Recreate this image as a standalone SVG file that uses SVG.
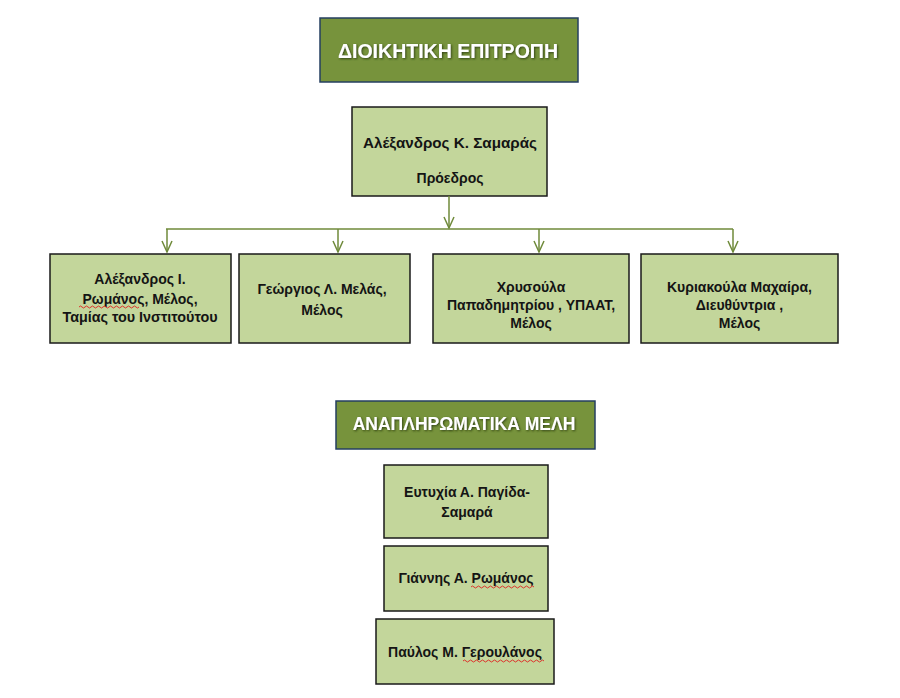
<svg xmlns="http://www.w3.org/2000/svg" width="900" height="698" viewBox="0 0 900 698">
<defs>
<style>
.title rect{fill:#77933c;stroke:#243f60;stroke-width:1.5}
.title text{font-family:"Liberation Sans",Arial,sans-serif;font-weight:bold;fill:#ffffff;text-anchor:middle;filter:url(#sh)}
.node rect{fill:#c3d69b;stroke:#1a1a1a;stroke-width:1.5}
.node text{font-family:"Liberation Sans",Arial,sans-serif;font-weight:bold;font-size:14px;fill:#141414;text-anchor:middle}
.conn path{fill:none;stroke:#6f8a3a;stroke-width:1.5}
.sq{fill:none;stroke:#e02020;stroke-width:0.9}
</style>
<filter id="sh" x="-10%" y="-30%" width="120%" height="160%">
<feGaussianBlur in="SourceAlpha" stdDeviation="0.8"/>
<feOffset dx="0.5" dy="0.8" result="b"/>
<feFlood flood-color="#2a3a10" flood-opacity="0.9"/>
<feComposite in2="b" operator="in"/>
<feMerge><feMergeNode/><feMergeNode in="SourceGraphic"/></feMerge>
</filter>
<marker id="ar" markerWidth="14" markerHeight="12" refX="12" refY="6" orient="auto" markerUnits="userSpaceOnUse">
<path d="M1,1 L12,6 L1,11" fill="none" stroke="#6f8a3a" stroke-width="1.5"/>
</marker>
</defs>
<rect width="900" height="698" fill="#ffffff"/>

<g id="title1" class="title">
<rect x="320" y="18" width="258" height="64"/>
<text x="448" y="58" font-size="19.5" textLength="220" lengthAdjust="spacingAndGlyphs">ΔΙΟΙΚΗΤΙΚΗ ΕΠΙΤΡΟΠΗ</text>
</g>

<g id="president" class="node">
<rect x="352" y="107" width="195" height="89"/>
<text x="450" y="148" textLength="174" lengthAdjust="spacingAndGlyphs">Αλέξανδρος Κ. Σαμαράς</text>
<text x="450" y="183">Πρόεδρος</text>
</g>

<g id="connectors" class="conn">
<path d="M449,196 V228" marker-end="url(#ar)"/>
<path d="M166,229 H733"/>
<path d="M167,229 V252" marker-end="url(#ar)"/>
<path d="M338,229 V252" marker-end="url(#ar)"/>
<path d="M539,229 V252" marker-end="url(#ar)"/>
<path d="M733,229 V252" marker-end="url(#ar)"/>
</g>

<g id="member1" class="node">
<rect x="50" y="254" width="181" height="89"/>
<text x="140" y="284">Αλέξανδρος Ι.</text>
<text x="140" y="304">Ρωμάνος, Μέλος,</text>
<text x="140" y="322" textLength="155" lengthAdjust="spacingAndGlyphs">Ταμίας του Ινστιτούτου</text>
<path class="sq" d="M79,307 q1.5,-2 3,0 t3,0 t3,0 t3,0 t3,0 t3,0 t3,0 t3,0 t3,0 t3,0 t3,0 t3,0 t3,0 t3,0 t3,0 t3,0 t3,0 t3,0 t3,0 t3,0"/>
</g>

<g id="member2" class="node">
<rect x="239" y="254" width="171" height="89"/>
<text x="322" y="294">Γεώργιος Λ. Μελάς,</text>
<text x="322" y="315">Μέλος</text>
</g>

<g id="member3" class="node">
<rect x="433" y="254" width="196" height="89"/>
<text x="531" y="292">Χρυσούλα</text>
<text x="531" y="310">Παπαδημητρίου , ΥΠΑΑΤ,</text>
<text x="531" y="328">Μέλος</text>
</g>

<g id="member4" class="node">
<rect x="641" y="254" width="197" height="89"/>
<text x="739.5" y="292">Κυριακούλα Μαχαίρα,</text>
<text x="739.5" y="310">Διευθύντρια ,</text>
<text x="739.5" y="328">Μέλος</text>
</g>

<g id="title2" class="title">
<rect x="336" y="401" width="259" height="48"/>
<text x="464" y="430" font-size="17.5">ΑΝΑΠΛΗΡΩΜΑΤΙΚΑ ΜΕΛΗ</text>
</g>

<g id="alt1" class="node">
<rect x="384" y="465" width="164" height="73"/>
<text x="467" y="497">Ευτυχία Α. Παγίδα-</text>
<text x="467" y="517">Σαμαρά</text>
</g>

<g id="alt2" class="node">
<rect x="384" y="546" width="164" height="65"/>
<text x="466" y="583">Γιάννης Α. Ρωμάνος</text>
<path class="sq" d="M471,587 q1.5,-2 3,0 t3,0 t3,0 t3,0 t3,0 t3,0 t3,0 t3,0 t3,0 t3,0 t3,0 t3,0 t3,0 t3,0 t3,0 t3,0 t3,0 t3,0 t3,0 t3,0 t3,0"/>
</g>

<g id="alt3" class="node">
<rect x="376" y="619" width="178" height="65"/>
<text x="465" y="657">Παύλος Μ. Γερουλάνος</text>
<path class="sq" d="M463,661 q1.5,-2 3,0 t3,0 t3,0 t3,0 t3,0 t3,0 t3,0 t3,0 t3,0 t3,0 t3,0 t3,0 t3,0 t3,0 t3,0 t3,0 t3,0 t3,0 t3,0 t3,0 t3,0 t3,0 t3,0 t3,0 t3,0 t3,0 t3,0"/>
</g>
</svg>
